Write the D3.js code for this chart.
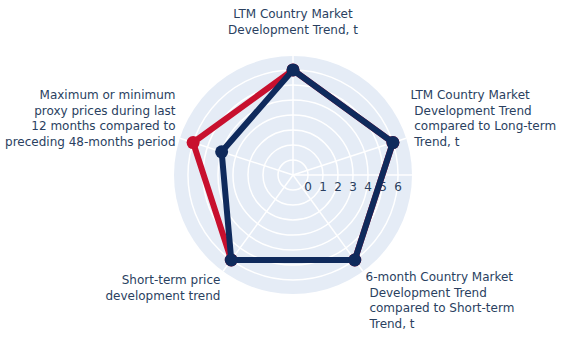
<!DOCTYPE html>
<html>
<head>
<meta charset="utf-8">
<script src="https://cdn.jsdelivr.net/npm/d3@7"></script>
<style>
  body { margin: 0; background: #fff; }
  text { font-family: "DejaVu Sans", Verdana, sans-serif; white-space: pre; }
</style>
</head>
<body>
<script>
// categories (line breaks kept as in the original labels)
var categories = [
    ["LTM Country Market", "Development Trend, t"],
    ["LTM Country Market", " Development Trend", " compared to Long-term", " Trend, t"],
    ["6-month Country Market", " Development Trend", " compared to Short-term", " Trend, t"],
    ["Short-term price", "development trend"],
    ["Maximum or minimum", "proxy prices during last", "12 months compared to", "preceding 48-months period"]
];
var redValues = [6, 6, 6, 6, 6];
var blueValues = [6, 6, 6, 6, 4];
var radialTicks = [0, 1, 2, 3, 4, 5, 6];
var radialRange = [-1, 6.93];

var width = 565, height = 337;
var cx = 293, cy = 175, outerR = 119;
var fontSize = 12, lineH = fontSize * 1.3, pad = 4.5;
var textColor = "#2a3f5f";

var svg = d3.select("body").append("svg")
    .attr("width", width)
    .attr("height", height);

var g = svg.append("g").attr("transform", "translate(" + cx + "," + cy + ")");

var rScale = d3.scaleLinear().domain(radialRange).range([0, outerR]);
// clockwise from top, angle in degrees (math convention)
var aScale = d3.scaleLinear().domain([0, categories.length]).range([90, 90 - 360]);

function rad(i) { return aScale(i) * Math.PI / 180; }
function px(i, r) { return Math.cos(rad(i)) * r; }
function py(i, r) { return -Math.sin(rad(i)) * r; }

// background
g.append("circle").attr("r", outerR).attr("fill", "#e5ecf6");

// grid circles
g.selectAll(".grid")
    .data(radialTicks)
    .enter().append("circle")
    .attr("r", function (d) { return rScale(d); })
    .attr("fill", "none")
    .attr("stroke", "#fff")
    .attr("stroke-width", 1.5);

// spokes
g.selectAll(".spoke")
    .data(categories)
    .enter().append("line")
    .attr("x1", 0).attr("y1", 0)
    .attr("x2", function (d, i) { return px(i, outerR); })
    .attr("y2", function (d, i) { return py(i, outerR); })
    .attr("stroke", "#fff")
    .attr("stroke-width", 1.5);

// radial axis line (angle 0)
g.append("line")
    .attr("x1", 0).attr("y1", 0)
    .attr("x2", outerR).attr("y2", 0)
    .attr("stroke", "#fff")
    .attr("stroke-width", 1.5);

// radial tick labels
g.selectAll(".rtick")
    .data(radialTicks)
    .enter().append("text")
    .attr("x", function (d) { return rScale(d); })
    .attr("y", 16)
    .attr("text-anchor", "middle")
    .attr("font-size", fontSize)
    .attr("fill", textColor)
    .text(function (d) { return d; });

// angular labels
categories.forEach(function (lines, i) {
    var a = rad(i), s = Math.sin(a), c = Math.cos(a);
    var x = c * outerR + c * pad;
    var ff = s > 0 ? 0.2 : 1;
    var y = -s * outerR - s * (pad + fontSize * ff) + Math.abs(c) * fontSize * 0.35;
    y += -0.5 * (1 + s) * lines.length * lineH;
    var anchor = Math.abs(c) < 0.1 ? "middle" : (c > 0 ? "start" : "end");
    var t = g.append("text")
        .attr("text-anchor", anchor)
        .attr("font-size", fontSize)
        .attr("fill", textColor);
    lines.forEach(function (ln, j) {
        t.append("tspan")
            .attr("x", x)
            .attr("y", y + j * lineH)
            .text(ln);
    });
});

// series
var radarLine = d3.lineRadial()
    .angle(function (d, i) { return Math.PI / 2 - rad(i); })
    .radius(function (d) { return rScale(d); })
    .curve(d3.curveLinearClosed);

function drawSeries(values, color) {
    g.append("path")
        .attr("d", radarLine(values))
        .attr("fill", "none")
        .attr("stroke", color)
        .attr("stroke-width", 6)
        .attr("stroke-linejoin", "round");
    g.selectAll(null)
        .data(values)
        .enter().append("circle")
        .attr("cx", function (d, i) { return px(i, rScale(d)); })
        .attr("cy", function (d, i) { return py(i, rScale(d)); })
        .attr("r", 6.5)
        .attr("fill", color);
}

drawSeries(redValues, "#c8102e");
drawSeries(blueValues, "#0f2a5c");
</script>
</body>
</html>
